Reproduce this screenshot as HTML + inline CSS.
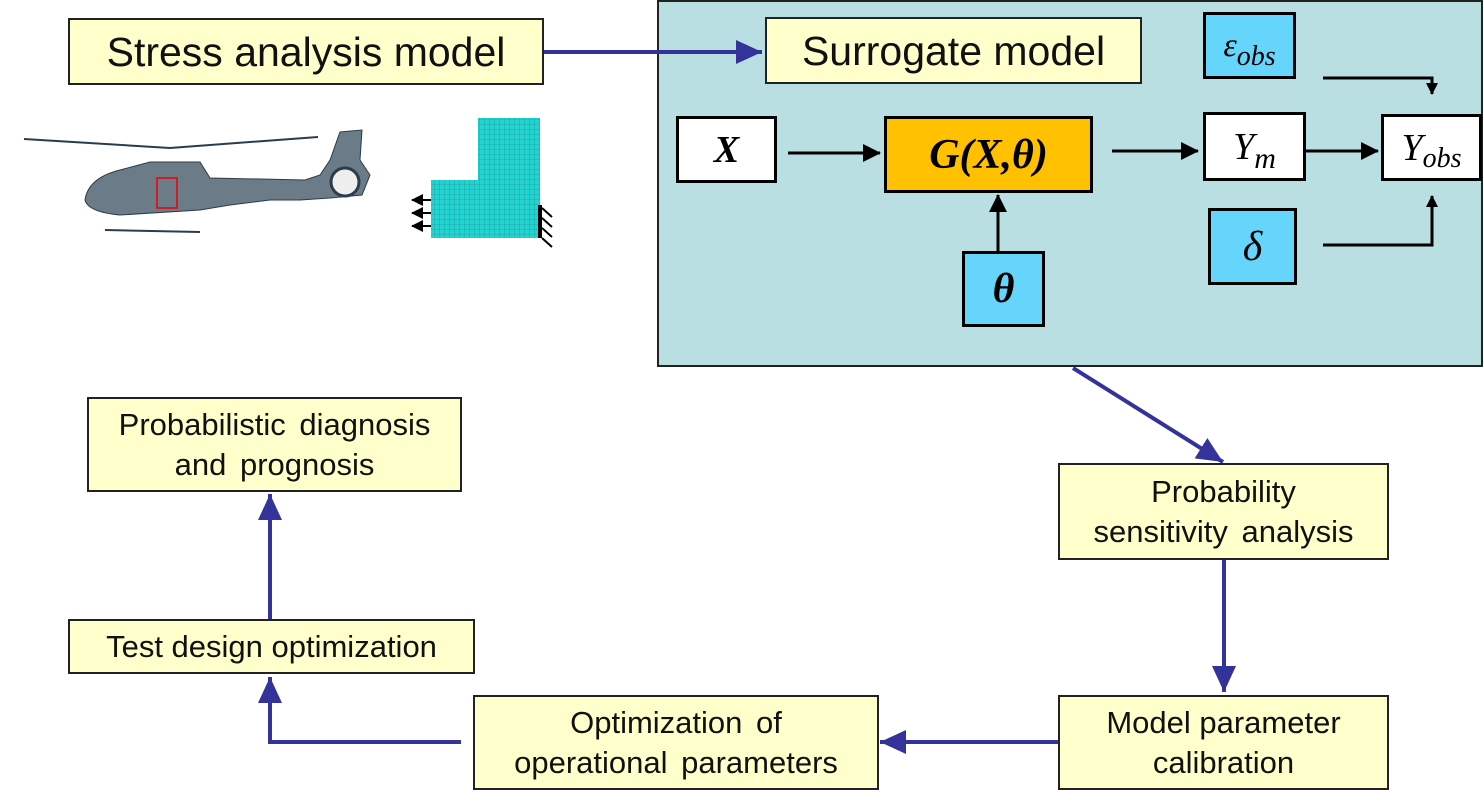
<!DOCTYPE html>
<html><head><meta charset="utf-8"><style>
body{margin:0;width:1484px;height:803px;background:#fff;overflow:hidden;position:relative;font-family:"Liberation Sans",sans-serif}
.b{position:absolute;box-sizing:border-box;display:flex;align-items:center;justify-content:center;text-align:center}
.y{background:#ffffcc;border:2px solid #222;color:#111;line-height:40px}
.k{border:3px solid #000;background:#fff;font-family:"Liberation Serif",serif;font-style:italic}
.c{background:#66d5fb;border:3px solid #000;font-family:"Liberation Serif",serif;font-style:italic}
.s{position:relative;top:0.4em}
</style></head><body>
<div class="b" style="left:657px;top:0;width:826px;height:367px;background:#b9dfe2;border:2px solid #222"></div>
<svg width="1484" height="803" style="position:absolute;left:0;top:0">
<defs>
<marker id="a" markerWidth="12" markerHeight="12" refX="11" refY="6" orient="auto" markerUnits="userSpaceOnUse"><path d="M0,0L12,6L0,12z" fill="#000"/></marker>
<marker id="m" markerWidth="28" markerHeight="28" refX="26" refY="14" orient="auto" markerUnits="userSpaceOnUse"><path d="M0,2L26,14L0,26z" fill="#333399"/></marker>
<marker id="s" markerWidth="18" markerHeight="18" refX="17" refY="9" orient="auto" markerUnits="userSpaceOnUse"><path d="M0,0L18,9L0,18z" fill="#000"/></marker>
<pattern id="g" width="5" height="5" patternUnits="userSpaceOnUse"><path d="M5,0V5H0" fill="none" stroke="#1a8c8c" stroke-width="0.6"/></pattern>
</defs>
<g stroke="#333399" stroke-width="4" fill="none">
<line x1="543" y1="52" x2="762" y2="52" marker-end="url(#m)"/>
<line x1="1073" y1="368" x2="1223" y2="462" marker-end="url(#m)"/>
<line x1="1224" y1="560" x2="1224" y2="692" marker-end="url(#m)"/>
<line x1="1058" y1="742" x2="880" y2="742" marker-end="url(#m)"/>
<polyline points="461,742 270,742 270,677" marker-end="url(#m)"/>
<line x1="270" y1="619" x2="270" y2="494" marker-end="url(#m)"/>
</g>
<g stroke="#000" stroke-width="3" fill="none">
<line x1="788" y1="153" x2="880" y2="153" marker-end="url(#s)"/>
<line x1="1112" y1="151" x2="1198" y2="151" marker-end="url(#s)"/>
<line x1="1306" y1="151" x2="1378" y2="151" marker-end="url(#s)"/>
<line x1="998" y1="251" x2="998" y2="195" marker-end="url(#s)"/>
<polyline points="1323,78 1432,78 1432,94" marker-end="url(#a)"/>
<polyline points="1323,245 1432,245 1432,196" marker-end="url(#a)"/>
</g>
<g fill="#3a4e5c" stroke="#2b3d4a">
<line x1="24" y1="139" x2="170" y2="148" stroke-width="2"/>
<line x1="170" y1="148" x2="318" y2="137" stroke-width="2"/>
<path d="M85,200 Q88,178 120,170 L150,162 L200,162 L210,178 L305,180 L320,175 L330,160 L340,132 L362,130 L360,160 L370,175 L362,195 L330,198 L300,200 L270,200 L230,205 L200,210 L120,215 Q88,212 85,200z" fill="#6b7b87" stroke-width="1"/>
<circle cx="345" cy="182" r="14" fill="#eee" stroke="#2b3d4a" stroke-width="3"/>
<line x1="105" y1="230" x2="200" y2="232" stroke-width="2"/>
</g>
<rect x="157" y="178" width="20" height="30" fill="none" stroke="#e00" stroke-width="1.5"/>
<path d="M478,118H540V238H431V180H478z" fill="#22d3d0"/>
<path d="M478,118H540V238H431V180H478z" fill="url(#g)"/>
<rect x="538" y="205" width="4" height="33" fill="#000"/>
<g stroke="#000" stroke-width="2"><line x1="542" y1="208" x2="552" y2="217"/><line x1="542" y1="218" x2="552" y2="227"/><line x1="542" y1="228" x2="552" y2="237"/><line x1="542" y1="238" x2="552" y2="247"/>
<line x1="431" y1="200" x2="412" y2="200" marker-end="url(#a)"/><line x1="431" y1="213" x2="412" y2="213" marker-end="url(#a)"/><line x1="431" y1="226" x2="412" y2="226" marker-end="url(#a)"/></g>
</svg>
<div class="b y" style="left:68px;top:18px;width:476px;height:67px;font-size:41px">Stress analysis model</div>
<div class="b y" style="left:765px;top:17px;width:377px;height:67px;font-size:41px">Surrogate model</div>
<div class="b c" style="left:1203px;top:12px;width:93px;height:67px;font-size:34px">ε<span class="s" style="font-size:28px">obs</span></div>
<div class="b k" style="left:676px;top:116px;width:101px;height:67px;font-size:38px;font-weight:bold">X</div>
<div class="b k" style="left:884px;top:116px;width:209px;height:77px;font-size:42px;font-weight:bold;background:#ffc000">G(X,θ)</div>
<div class="b k" style="left:1203px;top:112px;width:103px;height:69px;font-size:38px">Y<span class="s" style="font-size:30px">m</span></div>
<div class="b k" style="left:1381px;top:114px;width:101px;height:67px;font-size:38px">Y<span class="s" style="font-size:28px">obs</span></div>
<div class="b c" style="left:1208px;top:208px;width:89px;height:77px;font-size:42px">δ</div>
<div class="b c" style="left:962px;top:251px;width:83px;height:76px;font-size:42px;font-weight:bold">θ</div>
<div class="b y" style="left:87px;top:397px;width:375px;height:95px;font-size:31px;word-spacing:5px">Probabilistic diagnosis<br>and prognosis</div>
<div class="b y" style="left:1058px;top:463px;width:331px;height:97px;font-size:31px;word-spacing:5px">Probability<br>sensitivity analysis</div>
<div class="b y" style="left:68px;top:619px;width:407px;height:55px;font-size:31px">Test design optimization</div>
<div class="b y" style="left:473px;top:695px;width:406px;height:95px;font-size:31px;word-spacing:5px">Optimization of<br>operational parameters</div>
<div class="b y" style="left:1058px;top:695px;width:331px;height:95px;font-size:31px">Model parameter<br>calibration</div>
</body></html>
